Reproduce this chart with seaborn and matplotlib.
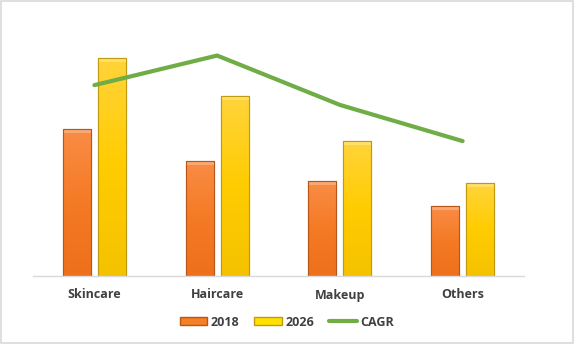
import numpy as np
import pandas as pd
import matplotlib
matplotlib.use("Agg")
import matplotlib.pyplot as plt
import seaborn as sns
from matplotlib.patches import Patch, Rectangle
from matplotlib.lines import Line2D
from matplotlib.colors import LinearSegmentedColormap

categories = ["Skincare", "Haircare", "Makeup", "Others"]
values_2018 = [14.7, 11.5, 9.5, 7.0]
values_2026 = [21.8, 18.0, 13.5, 9.3]
cagr = [5.8, 6.7, 5.2, 4.1]
series_names = ["2018", "2026"]

df = pd.DataFrame({
    "category": categories * 2,
    "year": [series_names[0]] * 4 + [series_names[1]] * 4,
    "value": values_2018 + values_2026,
})

sns.set_theme(style="white")
plt.rcParams["font.family"] = ["Open Sans", "DejaVu Sans"]

fig = plt.figure(figsize=(5.74, 3.44), dpi=100)
ax = fig.add_axes([33 / 574, 1 - 276 / 344, (524 - 33) / 574, (276 - 20) / 344])

orange = "#F58025"
yellow = "#FFCC00"
sns.barplot(data=df, x="category", y="value", hue="year", order=categories,
            hue_order=series_names, palette=[orange, yellow], width=0.57,
            gap=0.2, ax=ax, legend=False, saturation=1)

edges = ["#B8561A", "#C09A10"]
grads = [["#F98C45", "#F57A25", "#EE701C"], ["#FFD43A", "#FFCC00", "#F5C200"]]
for i, patch in enumerate(ax.patches):
    s = 0 if i < 4 else 1
    patch.set_edgecolor(edges[s])
    patch.set_linewidth(0.8)
    x0, y0 = patch.get_x(), patch.get_y()
    w, h = patch.get_width(), patch.get_height()
    cmap = LinearSegmentedColormap.from_list("g", grads[s][::-1])
    img = ax.imshow(np.linspace(0, 1, 100).reshape(-1, 1), cmap=cmap,
                    extent=[x0, x0 + w, y0, y0 + h], origin="lower",
                    aspect="auto", zorder=patch.get_zorder() + 0.1)
    img.set_clip_path(patch)
    # bevel highlight at top
    ax.add_patch(Rectangle((x0, y0 + h - 0.35), w, 0.35, facecolor="white",
                           alpha=0.25, edgecolor="none",
                           zorder=patch.get_zorder() + 0.2))
    ax.add_patch(Rectangle((x0, y0), w, h, facecolor="none",
                           edgecolor=edges[s], linewidth=0.8,
                           zorder=patch.get_zorder() + 0.3))

ax.set_xlim(-0.5, 3.5)
ax.set_ylim(0, 25.6)
ax.set_xlabel("")
ax.set_ylabel("")
ax.set_yticks([])
for sp in ["top", "right", "left"]:
    ax.spines[sp].set_visible(False)
ax.spines["bottom"].set_color("#D9D9D9")
ax.spines["bottom"].set_linewidth(1)
ax.tick_params(axis="x", length=0, pad=9)
for lbl in ax.get_xticklabels():
    lbl.set_fontweight("bold")
    lbl.set_fontsize(9)
    lbl.set_color("#404040")

ax2 = ax.twinx()
sns.lineplot(x=categories, y=cagr, color="#70AD47", linewidth=3, ax=ax2,
             sort=False, solid_capstyle="round", solid_joinstyle="round")
ax2.set_ylim(0, 7.78)
ax2.set_xlim(-0.5, 3.5)
ax2.set_yticks([])
ax2.set_ylabel("")
for sp in ["top", "right", "left", "bottom"]:
    ax2.spines[sp].set_visible(False)

handles = [Patch(facecolor=orange, edgecolor=edges[0], label="2018"),
           Patch(facecolor="#FFE000", edgecolor=edges[1], label="2026"),
           Line2D([0], [0], color="#70AD47", lw=3, label="CAGR")]
leg = fig.legend(handles=handles, loc="center", bbox_to_anchor=(0.5, 1 - 322 / 344),
                 ncol=3, frameon=False, handlelength=2.2, handleheight=0.6,
                 columnspacing=1.2, handletextpad=0.3,
                 prop={"weight": "bold", "size": 9})
for t in leg.get_texts():
    t.set_color("#404040")

fig.add_artist(Rectangle((0.001, 0.002), 0.997, 0.995, transform=fig.transFigure,
                         facecolor="none", edgecolor="#D9D9D9", linewidth=1.2))

fig.savefig("out.png", dpi=100)
